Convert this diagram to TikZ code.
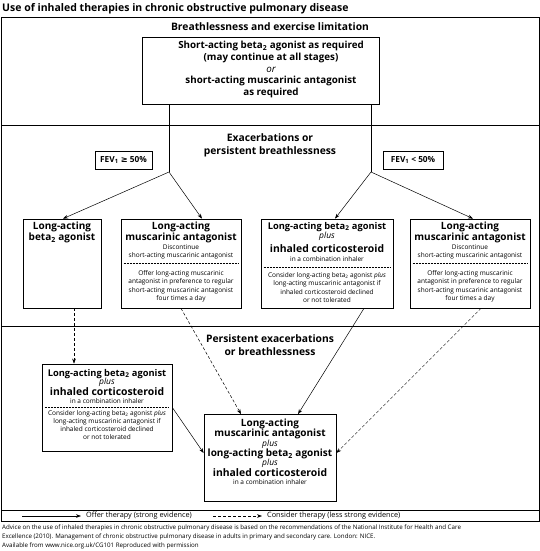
\documentclass[tikz,border=0pt]{standalone}
\usepackage{fontspec}
\setmainfont{Open Sans}
\newfontfamily\symfont{DejaVu Sans}
\usetikzlibrary{arrows.meta,positioning}

\newcommand\two{\textsubscript{2}}
\newcommand\gte{{\symfont\bfseries ≥}}

\tikzset{
  frame/.style={line width=0.9pt},
  box/.style={draw, line width=0.7pt, inner sep=0pt},
  txt/.style={align=center, inner sep=0pt},
  head/.style={txt, font=\fontsize{10}{11}\selectfont\bfseries},
  sect/.style={txt, font=\fontsize{10.3}{13}\selectfont\bfseries},
  small/.style={txt, font=\fontsize{6.5}{8.4}\selectfont},
  plusf/.style={txt, font=\fontsize{8.5}{9}\selectfont\itshape},
  icsf/.style={txt, font=\fontsize{10.4}{12}\selectfont\bfseries},
  labaf/.style={txt, font=\fontsize{9.3}{11}\selectfont\bfseries},
  offer/.style={line width=0.5pt, -{Stealth[length=5pt,width=3.6pt]}},
  consider/.style={offer, dash pattern=on 3pt off 2pt},
  sepline/.style={line width=0.4pt, dash pattern=on 2pt off 1pt},
}

\begin{document}
\begin{tikzpicture}[x=1pt,y=-1pt]
\useasboundingbox (0,0) rectangle (540,551);

% title and frame
\node[txt, anchor=base west, font=\fontsize{10.5}{11}\selectfont\bfseries] (title) at (2,12)
  {Use of inhaled therapies in chronic obstructive pulmonary disease};
\draw[frame] (1,17) rectangle (539,521);
\draw[frame] (1,125) -- (539,125);
\draw[frame] (1,326) -- (539,326);
\draw[frame] (1,510) -- (539,510);

% breathlessness and exercise limitation
\node[sect, anchor=base] (sect1) at (270,30.5) {Breathlessness and exercise limitation};
\node[box, minimum width=237, minimum height=67] (topbox) at (260.5,70.5) {};
\node[txt, anchor=north, font=\fontsize{9.8}{11.75}\selectfont\bfseries] (toptext) at (271,41)
  {Short-acting beta\two{} agonist as required\\(may continue at all stages)\\{\mdseries\itshape or}\\short-acting muscarinic antagonist\\as required};

% exacerbations or persistent breathlessness
\node[sect, anchor=north] (sect2) at (270,133) {Exacerbations or\\persistent breathlessness};
\node[box, minimum width=57, minimum height=18, font=\fontsize{8.3}{9}\selectfont\bfseries] (fevhi) at (123.5,160)
  {FEV\textsubscript{1} \gte{} 50\%};
\node[box, minimum width=60, minimum height=18, font=\fontsize{8.3}{9}\selectfont\bfseries] (fevlo) at (413,160)
  {FEV\textsubscript{1} < 50\%};
\coordinate (brL) at (169,172);
\coordinate (brR) at (371,172);
\draw[line width=0.5pt] (topbox.south -| brL) -- (brL);
\draw[line width=0.5pt] (topbox.south -| brR) -- (brR);

% long-acting beta2 agonist
\node[box, minimum width=78, minimum height=89] (labaBox) at (62,263.5) {};
\node[head, anchor=north] (labaHead) at (62,222) {Long-acting\\beta\two{} agonist};

% long-acting muscarinic antagonist, left
\node[box, minimum width=120, minimum height=89] (lamaBoxL) at (181,263.5) {};
\node[head, anchor=north] (lamaHeadL) at (181,222) {Long-acting\\muscarinic antagonist};
\node[small, anchor=north] (lamaNoteL) at (181,244.5) {Discontinue\\short-acting muscarinic antagonist};
\draw[sepline] ([xshift=3]lamaBoxL.west |- 0,263) -- ([xshift=-3]lamaBoxL.east |- 0,263);
\node[small, anchor=north] (lamaTextL) at (181,270.3)
  {Offer long-acting muscarinic\\antagonist in preference to regular\\short-acting muscarinic antagonist\\four times a day};

% long-acting beta2 agonist plus inhaled corticosteroid
\node[box, minimum width=132, minimum height=89] (labaIcsBox) at (327,263.5) {};
\node[labaf, anchor=base] (labaIcsHead) at (327,229.3) {Long-acting beta\two{} agonist};
\node[plusf, anchor=base] (labaIcsPlus) at (327,238.6) {plus};
\node[icsf, anchor=base] (labaIcsIcs) at (327,252.3) {inhaled corticosteroid};
\node[small, anchor=base] (labaIcsNote) at (327,261.2) {in a combination inhaler};
\draw[sepline] ([xshift=3]labaIcsBox.west |- 0,267) -- ([xshift=-3]labaIcsBox.east |- 0,267);
\node[small, anchor=north] (labaIcsText) at (327,272.3)
  {Consider long-acting beta\two{} agonist {\itshape plus}\\long-acting muscarinic antagonist if\\inhaled corticosteroid declined\\or not tolerated};

% long-acting muscarinic antagonist, right
\node[box, minimum width=120, minimum height=89] (lamaBoxR) at (470,263.5) {};
\node[head, anchor=north] (lamaHeadR) at (470,222) {Long-acting\\muscarinic antagonist};
\node[small, anchor=north] (lamaNoteR) at (470,244.5) {Discontinue\\short-acting muscarinic antagonist};
\draw[sepline] ([xshift=3]lamaBoxR.west |- 0,263) -- ([xshift=-3]lamaBoxR.east |- 0,263);
\node[small, anchor=north] (lamaTextR) at (470,270.3)
  {Offer long-acting muscarinic\\antagonist in preference to regular\\short-acting muscarinic antagonist\\four times a day};

% first line therapy arrows
\draw[offer] (brL) -- ([xshift=1]labaBox.north);
\draw[offer] (brL) -- ([xshift=21]lamaBoxL.north);
\draw[offer] (brR) -- ([xshift=8]labaIcsBox.north);
\draw[offer] (brR) -- ([xshift=3]lamaBoxR.north);

% persistent exacerbations or breathlessness
\node[sect, anchor=north] (sect3) at (270,334) {Persistent exacerbations\\or breathlessness};

\node[box, minimum width=130, minimum height=87] (labaIcsLow) at (107,407.5) {};
\node[labaf, anchor=base] (lowHead) at (107,376.3) {Long-acting beta\two{} agonist};
\node[plusf, anchor=base] (lowPlus) at (107,384.6) {plus};
\node[icsf, anchor=base] (lowIcs) at (107,395.8) {inhaled corticosteroid};
\node[small, anchor=base] (lowNote) at (107,403.3) {in a combination inhaler};
\draw[sepline] ([xshift=3]labaIcsLow.west |- 0,407) -- ([xshift=-3]labaIcsLow.east |- 0,407);
\node[small, anchor=north, font=\fontsize{6.5}{8}\selectfont] (lowText) at (107,410.5)
  {Consider long-acting beta\two{} agonist {\itshape plus}\\long-acting muscarinic antagonist if\\inhaled corticosteroid declined\\or not tolerated};

\node[box, minimum width=132, minimum height=87] (tripleBox) at (270,458) {};
\node[head, anchor=base] (triLama1) at (270,426) {Long-acting};
\node[head, anchor=base] (triLama2) at (270,436.5) {muscarinic antagonist};
\node[plusf, anchor=base] (triPlus1) at (270,446.6) {plus};
\node[head, anchor=base] (triLaba) at (270,456.5) {long-acting beta\two{} agonist};
\node[plusf, anchor=base] (triPlus2) at (270,465.6) {plus};
\node[icsf, anchor=base] (triIcs) at (270,476.6) {inhaled corticosteroid};
\node[small, anchor=base] (triNote) at (270,484.8) {in a combination inhaler};

% step-up arrows
\draw[consider] (labaBox.south -| 74,0) -- (labaIcsLow.north -| 74,0);
\draw[consider] (lamaBoxL.south) -- ([xshift=-29]tripleBox.north);
\draw[offer] ([xshift=37]labaIcsBox.south) -- ([xshift=28]tripleBox.north);
\draw[consider] ([xshift=11]lamaBoxR.south) -- (tripleBox.east |- 0,453);
\draw[offer] (labaIcsLow.east) -- (tripleBox.west |- 0,453);

% key
\coordinate (keyA1) at (22,516);
\coordinate (keyA2) at (81,516);
\coordinate (keyB1) at (213,516);
\coordinate (keyB2) at (262,516);
\draw[offer] (keyA1) -- (keyA2);
\node[txt, anchor=west, font=\fontsize{7.3}{8}\selectfont] (keyA) at (86,516) {Offer therapy (strong evidence)};
\draw[consider] (keyB1) -- (keyB2);
\node[txt, anchor=west, font=\fontsize{7.3}{8}\selectfont] (keyB) at (267,516) {Consider therapy (less strong evidence)};

% source
\node[txt, align=left, anchor=north west, font=\fontsize{6.2}{9.2}\selectfont] (source) at (2,524.5)
  {Advice on the use of inhaled therapies in chronic obstructive pulmonary disease is based on the recommendations of the National Institute for Health and Care\\
   Excellence (2010). Management of chronic obstructive pulmonary disease in adults in primary and secondary care. London: NICE.\\
   Available from www.nice.org.uk/CG101 Reproduced with permission};
\end{tikzpicture}
\end{document}
